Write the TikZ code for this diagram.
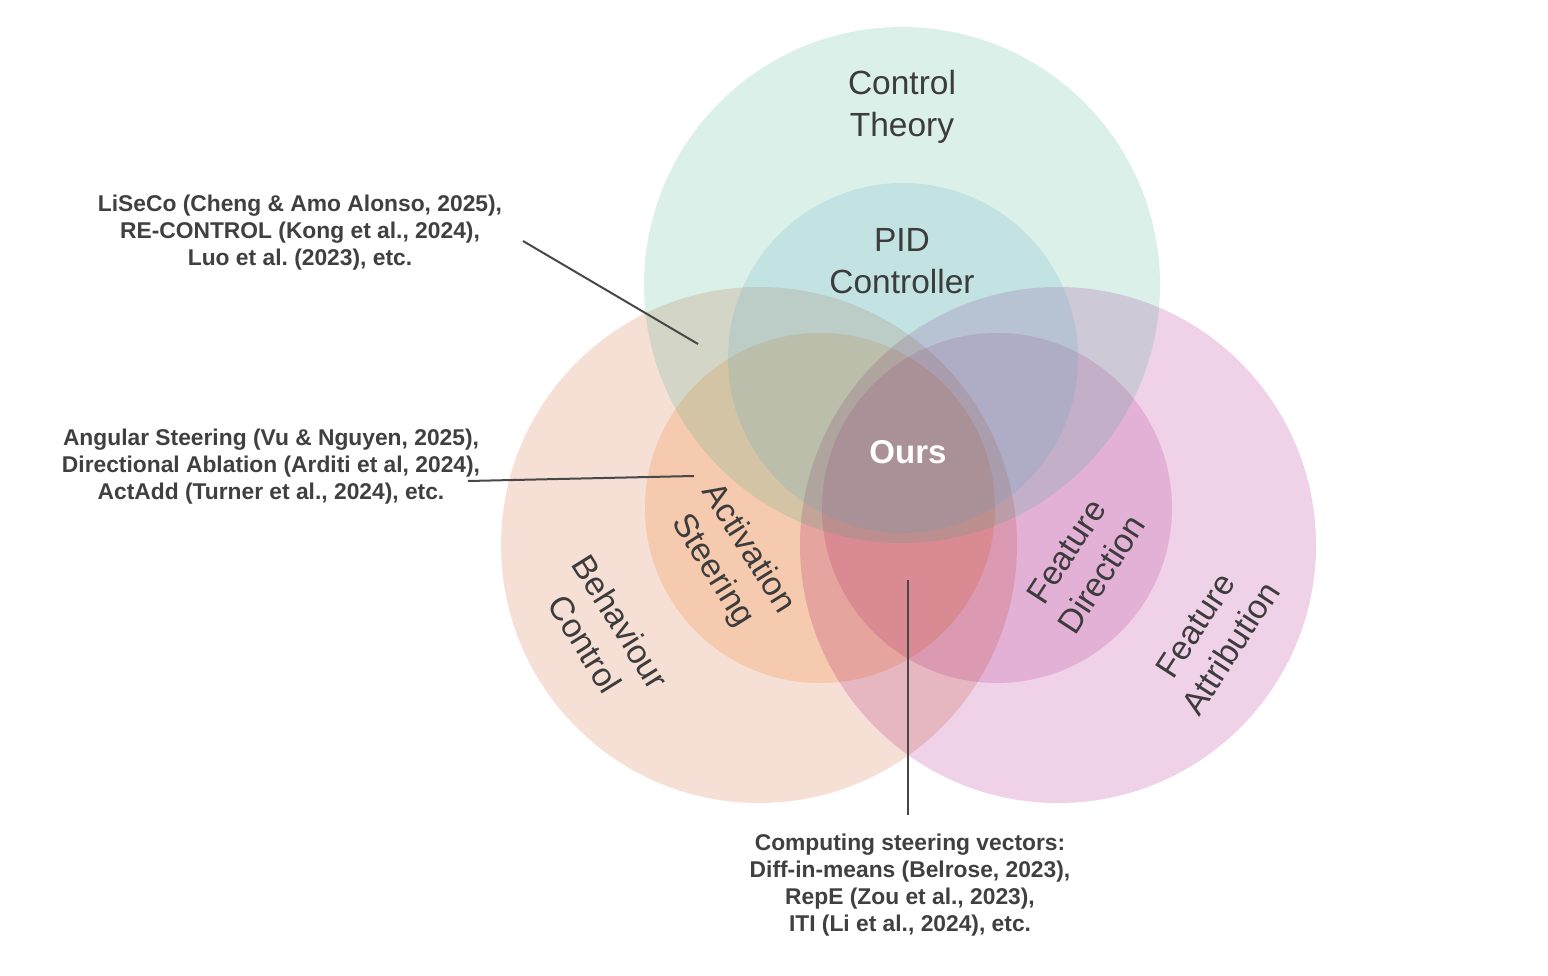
\documentclass[tikz,border=0pt]{standalone}
\usepackage{fontspec}
\setmainfont{Liberation Sans}
\frenchspacing
\definecolor{ctCol}{RGB}{43,167,126}
\definecolor{pidCol}{RGB}{78,164,198}
\definecolor{bcCol}{RGB}{246,223,213}
\definecolor{asCol}{RGB}{254,231,209}
\definecolor{faCol}{RGB}{239,209,232}
\definecolor{fdCol}{RGB}{243,216,236}
\definecolor{labCol}{RGB}{60,60,60}
\definecolor{noteCol}{RGB}{64,64,64}
\definecolor{lineCol}{RGB}{72,72,72}
\tikzset{
  bigc/.style={circle, minimum size=516pt, inner sep=0pt},
  smallc/.style={circle, minimum size=350pt, inner sep=0pt},
  mult/.style={blend mode=multiply},
  veil/.style={fill opacity=0.17},
  lab/.style={text=labCol, font=\fontsize{33.5}{42}\selectfont, align=center, inner sep=0pt},
  note/.style={text=noteCol, font=\bfseries\fontsize{22.8}{27}\selectfont, align=center, inner sep=0pt},
  leader/.style={draw=lineCol, line width=2pt}
}
\begin{document}
\begin{tikzpicture}[x=1pt,y=-1pt]
\fill[white] (0,0) rectangle (1548,976);
\useasboundingbox (0,0) rectangle (1548,976);
% lower circles (multiplied)
\node[bigc, mult, fill=bcCol] (bc) at (759,545) {};
\node[bigc, mult, fill=faCol] (fa) at (1058,545) {};
\node[smallc, mult, fill=asCol] (as) at (820,508) {};
\node[smallc, mult, fill=fdCol] (fd) at (997,508) {};
% upper circles (translucent veil)
\node[bigc, veil, fill=ctCol] (ct) at (902,285) {};
\node[smallc, veil, fill=pidCol] (pid) at (903,358) {};
% circle labels
\node[lab] (ctl) at (902,107) {Control\\Theory};
\node[lab] (pidl) at (902,261) {PID\\Controller};
\node[lab, rotate=-58] (asl) at (730,560) {Activation\\Steering};
\node[lab, rotate=-58] (bcl) at (603,633) {Behaviour\\Control};
\node[lab, rotate=57] (fdl) at (1084,563) {Feature\\Direction};
\node[lab, rotate=57] (fal) at (1213,637) {Feature\\Attribution};
\node[text=white, font=\bfseries\fontsize{33}{40}\selectfont, inner sep=0pt] (ours) at (908,452) {Ours};
% annotations
\node[note] (n1) at (300,233) {LiSeCo (Cheng \& Amo Alonso, 2025),\\RE-CONTROL (Kong et al., 2024),\\Luo et al. (2023), etc.};
\node[note] (n2) at (271,467) {Angular Steering (Vu \& Nguyen, 2025),\\Directional Ablation (Arditi et al, 2024),\\ActAdd (Turner et al., 2024), etc.};
\node[note] (n3) at (910,885) {Computing steering vectors:\\Diff-in-means (Belrose, 2023),\\RepE (Zou et al., 2023),\\ITI (Li et al., 2024), etc.};
% leader lines
\coordinate (a1) at (523,241);
\coordinate (b1) at (698,344);
\coordinate (a2) at (468,481);
\coordinate (b2) at (694,476);
\coordinate (a3) at (908,815);
\coordinate (b3) at (908,580);
\draw[leader] (a1) -- (b1);
\draw[leader] (a2) -- (b2);
\draw[leader] (a3) -- (b3);
\end{tikzpicture}
\end{document}
